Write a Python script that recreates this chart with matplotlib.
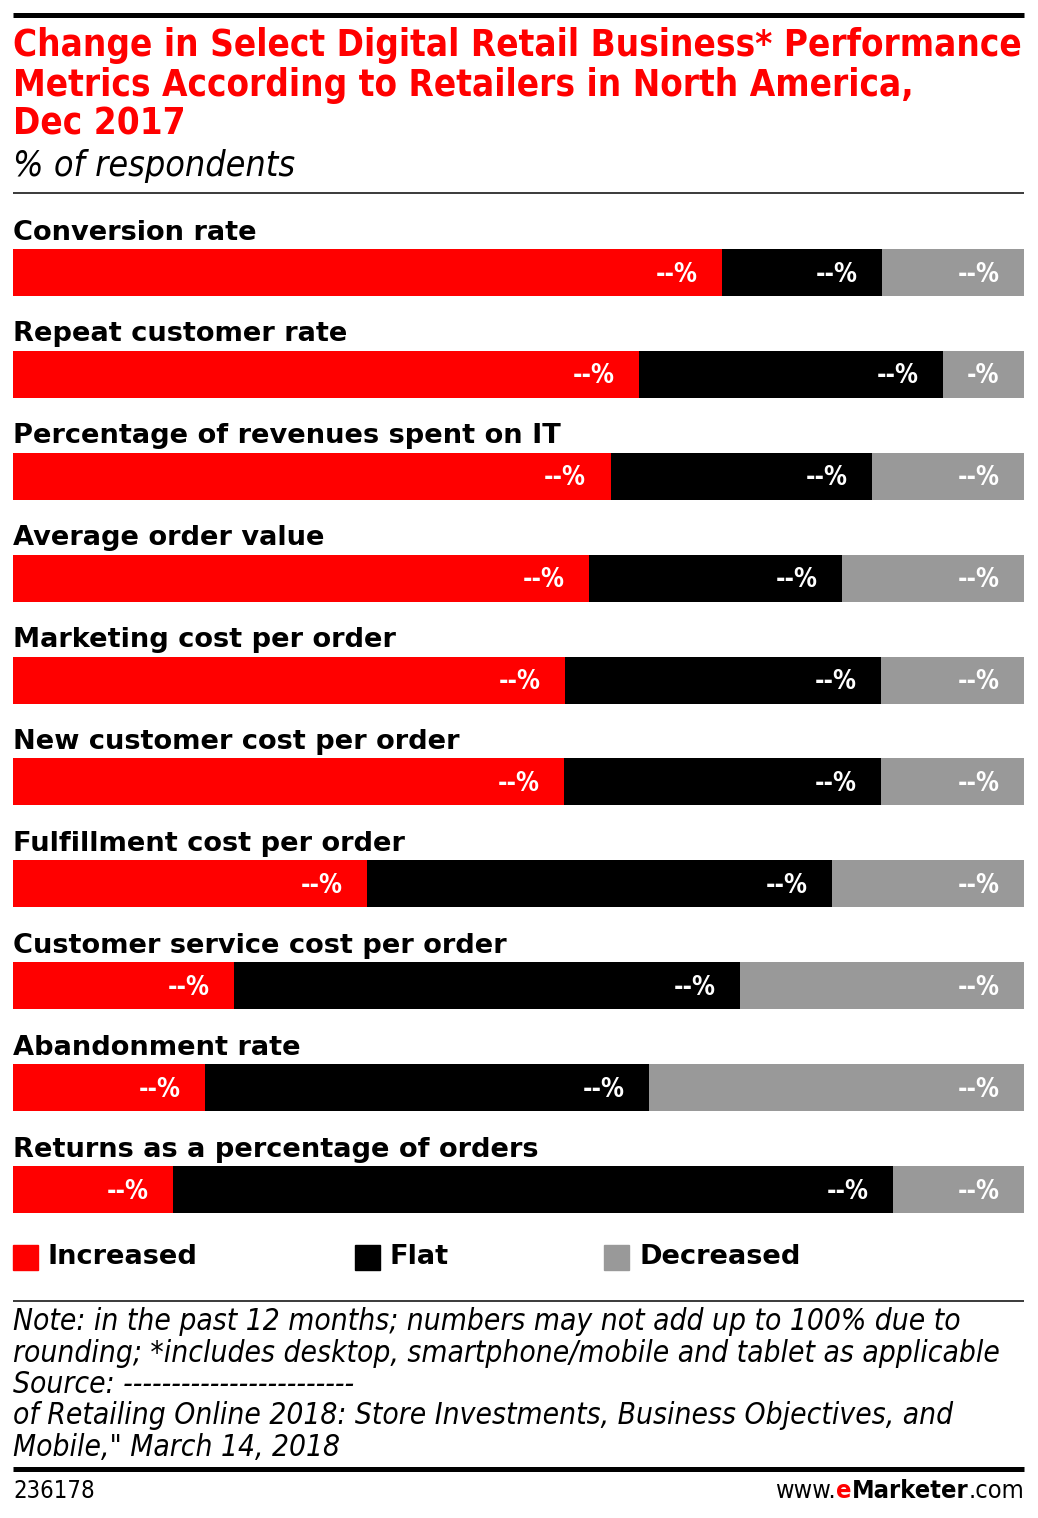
import matplotlib
matplotlib.use("Agg")
import matplotlib.pyplot as plt
from matplotlib import font_manager as fm

categories = ["Conversion rate", "Repeat customer rate", "Percentage of revenues spent on IT",
              "Average order value", "Marketing cost per order", "New customer cost per order",
              "Fulfillment cost per order", "Customer service cost per order",
              "Abandonment rate", "Returns as a percentage of orders"]
increased = [70.1, 61.9, 59.1, 57.0, 54.6, 54.5, 35.0, 21.9, 19.0, 15.8]
flat = [15.9, 30.1, 25.9, 25.0, 31.3, 31.4, 46.0, 50.0, 43.9, 71.2]
decreased = [14.0, 8.0, 15.0, 18.0, 14.1, 14.1, 19.0, 28.1, 37.1, 13.0]
labels_inc = ["--%"] * 10
labels_flat = ["--%"] * 10
labels_dec = ["--%", "-%", "--%", "--%", "--%", "--%", "--%", "--%", "--%", "--%"]
series_names = ["Increased", "Flat", "Decreased"]
colors = ["#ff0000", "#000000", "#999999"]

W, H = 1038, 1518
fig = plt.figure(figsize=(W / 100, H / 100), dpi=100)
r = fig.canvas.get_renderer()

COND = dict(family="DejaVu Sans", stretch="condensed")
WIDE = dict(family="DejaVu Sans", fontweight="bold")

def fx(px):
    return px / W

def fy(py):
    return 1 - py / H

def fit_size(text, width_px, **kw):
    t = fig.text(0, 0, text, fontsize=20, **kw)
    w = t.get_window_extent(r).width
    t.remove()
    return 20 * width_px / w

def hline(y, lw_px, x0=13, x1=1024):
    fig.add_artist(plt.Line2D([fx(x0), fx(x1)], [fy(y), fy(y)], color="black",
                              linewidth=lw_px * 0.72, solid_capstyle="butt"))

hline(15, 5)
hline(193, 1.5)
hline(1301, 1.5)
hline(1469, 5)

title_lines = ["Change in Select Digital Retail Business* Performance",
               "Metrics According to Retailers in North America,",
               "Dec 2017"]
ts = fit_size(title_lines[0], 1009, fontweight="bold", **COND)
for i, t in enumerate(title_lines):
    fig.text(fx(13), fy(46 + 39 * i), t, color="#ff0000", fontsize=ts,
             fontweight="bold", va="center", ha="left", **COND)
ss = fit_size("% of respondents", 282, style="italic", **COND)
fig.text(fx(13), fy(166), "% of respondents", fontsize=ss, style="italic",
         va="center", ha="left", **COND)

# bars axes
top, bot = 249, 1213
ax = fig.add_axes([fx(13), fy(bot), fx(1024) - fx(13), (bot - top) / H])
sp = 102.0
bh = 47 / sp
ax.set_xlim(0, 100)
ax.set_ylim(9 + bh / 2, -bh / 2)
ax.axis("off")
ys = list(range(len(categories)))
left = [0] * len(categories)
ls = fit_size("--%", 42, fontweight="bold", **COND)
for vals, col, labs in [(increased, colors[0], labels_inc), (flat, colors[1], labels_flat),
                        (decreased, colors[2], labels_dec)]:
    ax.barh(ys, vals, left=left, height=bh, color=col, edgecolor="none")
    for y, l, v, lab in zip(ys, left, vals, labs):
        ax.text(l + v - 2.4, y + 0.02, lab, color="white", fontsize=ls, fontweight="bold",
                ha="right", va="center", **COND)
    left = [a + b for a, b in zip(left, vals)]
cs = fit_size("Conversion rate", 245, **WIDE)
for y, c in zip(ys, categories):
    ax.text(0, y - 40 / sp, c, fontsize=cs, ha="left", va="center",
            clip_on=False, **WIDE)

# legend
lg = fit_size("Increased", 150, **WIDE)
for name, col, x in zip(series_names, colors, [13, 355, 604]):
    fig.add_artist(plt.Rectangle((fx(x), fy(1270)), fx(25), 25 / H, color=col,
                                 transform=fig.transFigure))
    fig.text(fx(x + 35), fy(1257), name, fontsize=lg, va="center", ha="left", **WIDE)

notes = ["Note: in the past 12 months; numbers may not add up to 100% due to",
         "rounding; *includes desktop, smartphone/mobile and tablet as applicable",
         "Source: ------------------------",
         "of Retailing Online 2018: Store Investments, Business Objectives, and",
         "Mobile,\" March 14, 2018"]
ns = fit_size(notes[1], 984, style="italic", **COND)
for i, t in enumerate(notes):
    fig.text(fx(13), fy(1322 + 31.3 * i), t, fontsize=ns, style="italic",
             va="center", ha="left", **COND)

fig.text(fx(13), fy(1491), "236178", fontsize=ns * 0.8, va="center", ha="left", **COND)
# eMarketer logo text
fs = ns * 0.85
t1 = fig.text(fx(1024), fy(1491), ".com", fontsize=fs, va="center", ha="right", **COND)
bb = t1.get_window_extent(r)
t2 = fig.text(bb.x0 / W, fy(1491), "Marketer", fontsize=fs, fontweight="bold",
              va="center", ha="right", **COND)
bb = t2.get_window_extent(r)
t3 = fig.text(bb.x0 / W, fy(1491), "e", fontsize=fs, fontweight="bold",
              color="#ff0000", va="center", ha="right", **COND)
bb = t3.get_window_extent(r)
fig.text(bb.x0 / W, fy(1491), "www.", fontsize=fs, va="center", ha="right", **COND)

fig.savefig("out.png", dpi=100)
